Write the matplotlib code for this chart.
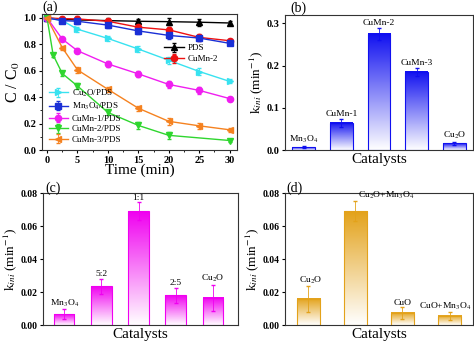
import numpy as np
import matplotlib
matplotlib.use('Agg')
import matplotlib.pyplot as plt
from matplotlib.colors import LinearSegmentedColormap
from matplotlib.ticker import MultipleLocator

plt.rcParams['font.family'] = ['Liberation Serif', 'DejaVu Serif']
plt.rcParams['mathtext.fontset'] = 'stix'

### data panel (a)
t_std = [0, 2.5, 5, 10, 15, 20, 25, 30]
t_green = [0, 1, 2.5, 5, 10, 15, 20, 30]
pds = [1.0, 0.99, 0.985, 0.98, 0.975, 0.972, 0.968, 0.962]
cumn2 = [1.0, 0.995, 0.993, 0.975, 0.93, 0.91, 0.853, 0.828]
cu2o_pds = [1.0, 0.98, 0.915, 0.845, 0.765, 0.68, 0.595, 0.52]
mn3o4_pds = [1.0, 0.98, 0.975, 0.946, 0.902, 0.868, 0.848, 0.808]
cumn1_pds = [1.0, 0.84, 0.752, 0.652, 0.577, 0.497, 0.452, 0.39]
cumn2_pds = [1.0, 0.72, 0.58, 0.485, 0.285, 0.187, 0.112, 0.073]
cumn3_pds = [1.0, 0.775, 0.607, 0.46, 0.317, 0.218, 0.184, 0.154]
err_a = [0.005, 0.015, 0.02, 0.02, 0.02, 0.025, 0.025, 0.015]

### data panel (b)
b_names = ['Mn$_3$O$_4$', 'CuMn-1', 'CuMn-2', 'CuMn-3', 'Cu$_2$O']
b_vals = [0.007, 0.064, 0.275, 0.185, 0.016]
b_err = [0.003, 0.01, 0.015, 0.01, 0.004]

### data panel (c)
c_names = ['Mn$_3$O$_4$', '5:2', '1:1', '2:5', 'Cu$_2$O']
c_vals = [0.0065, 0.0235, 0.069, 0.018, 0.0165]
c_err = [0.003, 0.0045, 0.0055, 0.0045, 0.008]

### data panel (d)
d_names = ['Cu$_2$O', 'Cu$_2$O+Mn$_3$O$_4$', 'CuO', 'CuO+Mn$_3$O$_4$']
d_vals = [0.016, 0.069, 0.0075, 0.0055]
d_err = [0.008, 0.006, 0.0035, 0.0025]

fig = plt.figure(figsize=(4.74, 3.5), dpi=100)
ax_a = fig.add_axes([0.089, 0.571, 0.411, 0.389])
ax_b = fig.add_axes([0.601, 0.571, 0.397, 0.386])
ax_c = fig.add_axes([0.091, 0.071, 0.411, 0.377])
ax_d = fig.add_axes([0.601, 0.071, 0.397, 0.377])

def style(ax, size=7.5):
    ax.tick_params(direction='out', length=2.5, width=0.8, labelsize=size, pad=1.5)
    ax.tick_params(which='minor', direction='out', length=1.5, width=0.6)
    for lab in ax.get_xticklabels() + ax.get_yticklabels():
        lab.set_fontweight('bold')
    for s in ax.spines.values():
        s.set_linewidth(0.8)
        s.set_color('#333333')

### panel (a)
series = [
    (t_std, pds, 'k', '^', 'PDS'),
    (t_std, cumn2, '#ee1111', 'o', 'CuMn-2'),
    (t_std, cu2o_pds, '#38e2f0', '>', 'Cu$_2$O/PDS'),
    (t_std, mn3o4_pds, '#1a2fd6', 's', 'Mn$_3$O$_4$/PDS'),
    (t_std, cumn1_pds, '#f01ef0', 'o', 'CuMn-1/PDS'),
    (t_green, cumn2_pds, '#2fd62f', 'v', 'CuMn-2/PDS'),
    (t_std, cumn3_pds, '#f58220', '<', 'CuMn-3/PDS'),
]
handles = []
for x, y, c, m, lab in series:
    h = ax_a.errorbar(x, y, yerr=err_a, color=c, marker=m, ms=4.5, lw=1.0,
                      elinewidth=0.6, capsize=1.2, label=lab)
    handles.append(h)
ax_a.set_xlim(-0.8, 31.2)
ax_a.set_ylim(0, 1.03)
ax_a.set_xticks([0, 5, 10, 15, 20, 25, 30])
ax_a.set_yticks([0, 0.2, 0.4, 0.6, 0.8, 1.0])
ax_a.xaxis.set_minor_locator(MultipleLocator(2.5))
ax_a.yaxis.set_minor_locator(MultipleLocator(0.1))
ax_a.set_xlabel('Time (min)', fontsize=11, labelpad=-0.5)
ax_a.set_ylabel('C / C$_0$', fontsize=11.5, labelpad=1)
style(ax_a)
leg1 = ax_a.legend(handles[:2], ['PDS', 'CuMn-2'], loc='upper left',
                   bbox_to_anchor=(0.6, 0.82), frameon=False, fontsize=6.5,
                   handlelength=2.2, handletextpad=0.4, labelspacing=0.3,
                   borderpad=0.1)
ax_a.add_artist(leg1)
ax_a.legend(handles[2:], [s[4] for s in series[2:]], loc='lower left',
            bbox_to_anchor=(0.0, 0.0), frameon=False, fontsize=6.5,
            handlelength=2.2, handletextpad=0.4, labelspacing=0.25,
            borderpad=0.2)
ax_a.text(0.0, 1.0, '(a)', transform=ax_a.transAxes, fontsize=10,
          ha='left', va='bottom')

### bars with vertical gradient
def gradient_bars(ax, vals, errs, names, color, width, ylim, xlim, label_off,
                  label_dx=None):
    cmap = LinearSegmentedColormap.from_list('g', ['white', color])
    grad = np.linspace(0, 1, 256).reshape(-1, 1)
    xs = np.arange(1, len(vals) + 1)
    for x, v in zip(xs, vals):
        ax.imshow(grad, cmap=cmap, origin='lower', aspect='auto',
                  extent=(x - width / 2, x + width / 2, 0, v), zorder=1,
                  vmin=0.0, vmax=1.0)
    ax.bar(xs, vals, width=width, facecolor='none', edgecolor=color,
           linewidth=0.8, zorder=2)
    ax.errorbar(xs, vals, yerr=errs, fmt='none', ecolor=color,
                elinewidth=0.6, capsize=1.5, zorder=3)
    if label_dx is None:
        label_dx = [0] * len(vals)
    for x, v, e, n, dx in zip(xs, vals, errs, names, label_dx):
        ax.text(x + dx, v + e + label_off, n, ha='center', va='bottom',
                fontsize=6.8)
    ax.set_xlim(*xlim)
    ax.set_ylim(*ylim)
    ax.set_xticks([])
    ax.set_xlabel('Catalysts', fontsize=11, labelpad=2)
    ax.set_ylabel('k$_{ini}$ (min$^{-1}$)', fontsize=9.5, labelpad=1)

gradient_bars(ax_b, b_vals, b_err, b_names, '#1010f0', 0.6, (0, 0.32),
              (0.5, 5.5), 0.002)
ax_b.set_yticks([0, 0.1, 0.2, 0.3])
style(ax_b)
ax_b.text(0.03, 1.0, '(b)', transform=ax_b.transAxes, fontsize=10,
          ha='left', va='bottom')

gradient_bars(ax_c, c_vals, c_err, c_names, '#f000f0', 0.55, (0, 0.08),
              (0.43, 5.68), 0.0004)
ax_c.set_yticks([0, 0.02, 0.04, 0.06, 0.08])
ax_c.set_yticklabels(['0.00', '0.02', '0.04', '0.06', '0.08'])
style(ax_c, 7)
ax_c.text(0.01, 1.035, '(c)', transform=ax_c.transAxes, fontsize=10,
          ha='left', va='center')

gradient_bars(ax_d, d_vals, d_err, d_names, '#e3a21a', 0.5, (0, 0.08),
              (0.5, 4.5), 0.0, label_dx=[0.05, 0.65, 0, -0.08])
ax_d.set_yticks([0, 0.02, 0.04, 0.06, 0.08])
ax_d.set_yticklabels(['0.00', '0.02', '0.04', '0.06', '0.08'])
style(ax_d, 7)
ax_d.text(0.01, 1.035, '(d)', transform=ax_d.transAxes, fontsize=10,
          ha='left', va='center')

fig.savefig('out.png', dpi=100)
